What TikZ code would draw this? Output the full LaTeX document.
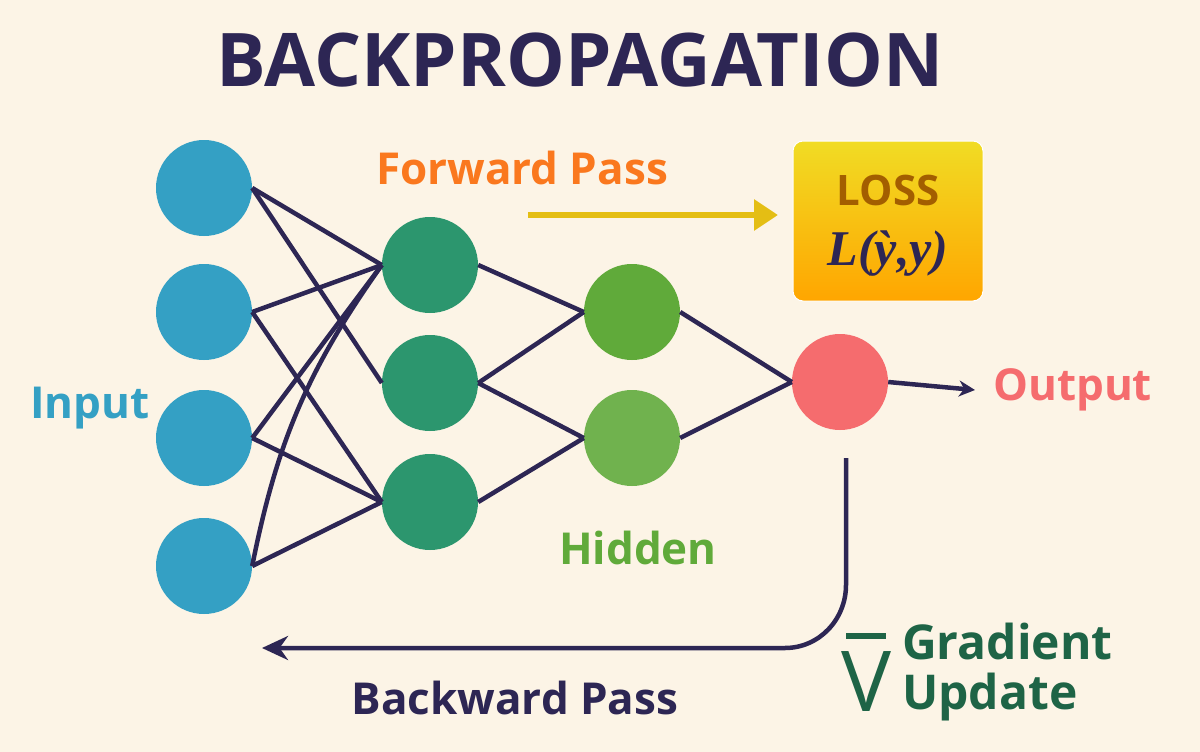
\documentclass[tikz,border=0pt]{standalone}
\usepackage{fontspec}
\setmainfont{Open Sans}
\newfontfamily\lossfont{Liberation Serif}
\usetikzlibrary{arrows.meta, positioning}
\definecolor{my_bg}{RGB}{252, 244, 230}
\definecolor{my_navy}{RGB}{45, 38, 84}
\definecolor{my_blue}{RGB}{52, 160, 196}
\definecolor{my_teal}{RGB}{44, 150, 110}
\definecolor{my_green}{RGB}{96, 170, 58}
\definecolor{my_red}{RGB}{245, 108, 110}
\definecolor{my_orange}{RGB}{250, 120, 30}
\definecolor{my_gold}{RGB}{228, 190, 20}
\definecolor{my_darkgreen}{RGB}{30, 100, 70}
\tikzset {
  neuron/.style = {circle, minimum size=96pt, inner sep=0pt},
  link/.style = {line width=4.5pt, color=my_navy},
  line/.style = {-{Stealth[length=16pt, width=16pt]}, line width=4.5pt, color=my_navy},
  label/.style = {font=\bfseries\fontsize{44}{50}\selectfont}
}
\begin{document}
\begin{tikzpicture}[x=1pt, y=-1pt]
    \fill[my_bg] (0,0) rectangle (1200,752);
    \useasboundingbox (0,0) rectangle (1200,752);

    \node[label, font=\bfseries\fontsize{74}{80}\selectfont, color=my_navy] (title) at (580,60) {BACKPROPAGATION};

    % input layer
    \node[neuron, fill=my_blue] (in1) at (204,188) {};
    \node[neuron, fill=my_blue] (in2) at (204,312) {};
    \node[neuron, fill=my_blue] (in3) at (204,438) {};
    \node[neuron, fill=my_blue] (in4) at (204,566) {};
    % hidden layers
    \node[neuron, fill=my_teal] (h1a) at (430,265) {};
    \node[neuron, fill=my_teal] (h1b) at (430,383) {};
    \node[neuron, fill=my_teal] (h1c) at (430,502) {};
    \node[neuron, fill=my_green] (h2a) at (632,312) {};
    \node[neuron, fill=my_green!90!white] (h2b) at (632,438) {};
    \node[neuron, fill=my_red] (out) at (840,382) {};

    \draw[link] (in1.east) -- (h1a.west);
    \draw[link] (in1.east) -- (h1b.west);
    \draw[link] (in2.east) -- (h1a.west);
    \draw[link] (in2.east) -- (h1c.west);
    \draw[link] (in3.east) -- (h1a.west);
    \draw[link] (in3.east) -- (h1c.west);
    \draw[link] (in4.east) to[bend left=12] (h1a.west);
    \draw[link] (in4.east) -- (h1c.west);
    \draw[link] (h1a.east) -- (h2a.west);
    \draw[link] (h1b.east) -- (h2a.west);
    \draw[link] (h1b.east) -- (h2b.west);
    \draw[link] (h1c.east) -- (h2b.west);
    \draw[link] (h2a.east) -- (out.west);
    \draw[link] (h2b.east) -- (out.west);

    \node[label, color=my_blue, anchor=west, inner sep=0pt] (input) at (30,408) {Input};
    \node[label, color=my_green] (hidden) at (638,548) {Hidden};
    \node[label, color=my_orange] (fwd) at (522,168) {Forward Pass};
    \coordinate (fs) at (528,215);
    \coordinate (fe) at (778,215);
    \draw[-{Triangle[length=24pt, width=30pt]}, line width=6pt, color=my_gold] (fs) -- (fe);

    \node[draw=white, line width=1pt, rounded corners=10pt, minimum width=190pt, minimum height=160pt,
          top color=my_gold!60!yellow!90!white, bottom color=orange!70!yellow] (loss) at (888,221) {};
    \node[font=\bfseries\fontsize{42}{46}\selectfont, color=orange!60!black!90!yellow] (losst) at (888,190) {LOSS};
    \node[font=\lossfont\bfseries\itshape\fontsize{50}{54}\selectfont, color=my_navy] (lossf) at (888,254) {L(ỳ,y)};

    \node[label, color=my_red, anchor=west, inner sep=0pt] (output) at (993,390) {Output};
    \coordinate (oe) at (975,390);
    \draw[line] (out.east) -- (oe);

    \coordinate (bs) at (846,458);
    \coordinate (be) at (262,648);
    \draw[line, -{Stealth[length=26pt, width=24pt]}] (bs) -- (846,585) to[out=-90, in=0] (785,648) -- (be);
    \node[label, color=my_navy] (bwd) at (515,698) {Backward Pass};

    \node[font=\fontsize{84}{84}\selectfont, color=my_darkgreen, inner sep=0pt] (nabla) at (866,682) {V};
    \draw[line width=6pt, color=my_darkgreen] ([xshift=-20pt, yshift=16pt]nabla.north) -- ([xshift=20pt, yshift=16pt]nabla.north);
    \node[label, color=my_darkgreen, align=left, anchor=west, inner sep=0pt, font=\bfseries\fontsize{48}{50}\selectfont] (grad) at (902,672) {Gradient\\Update};
\end{tikzpicture}
\end{document}
